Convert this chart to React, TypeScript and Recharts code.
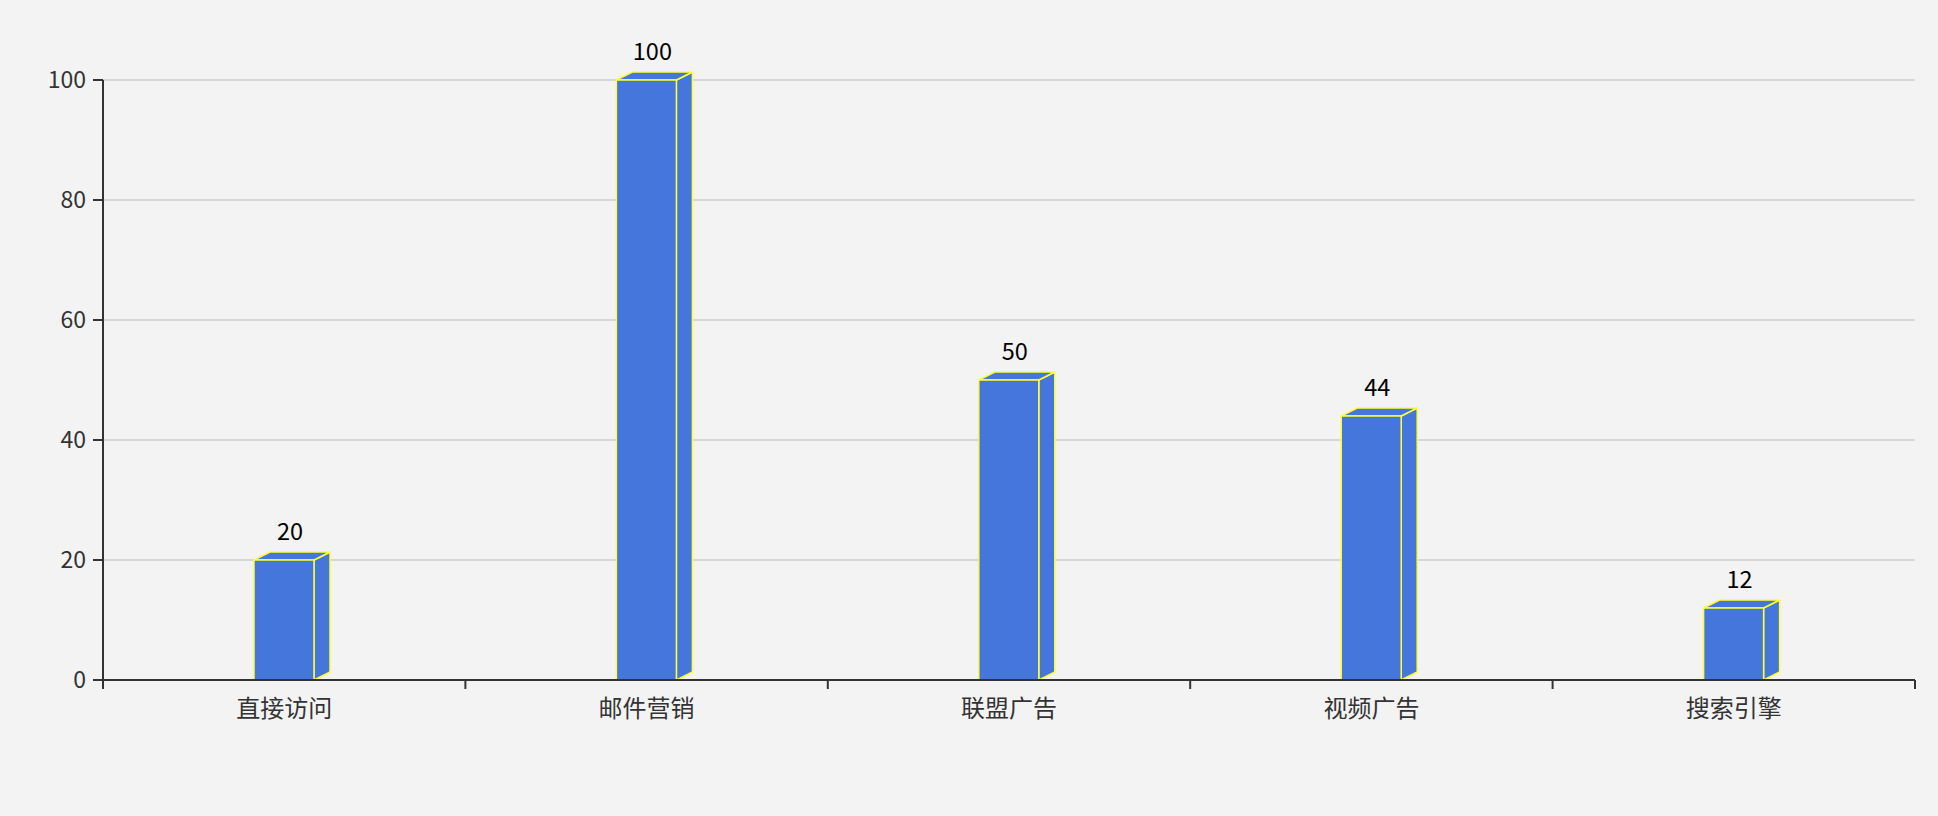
import React from 'react';
import { BarChart, Bar, XAxis, YAxis, CartesianGrid, LabelList } from 'recharts';

const categories = ['直接访问', '邮件营销', '联盟广告', '视频广告', '搜索引擎'];
const values = [20, 100, 50, 44, 12];
const yTicks = [0, 20, 40, 60, 80, 100];

const data = categories.map((name, i) => ({ name, value: values[i] }));

const FONT = "'Noto Sans CJK SC', 'Noto Sans', sans-serif";
const DX = 16;
const DY = 8;
const FILL = '#4576db';
const EDGE = '#ffff33';

const Bar3D = (props: any) => {
  const { x, y, width, height } = props;
  if (width == null || height == null) return null;
  const front = `M${x},${y} L${x + width},${y} L${x + width},${y + height} L${x},${y + height} Z`;
  const side = `M${x + width},${y} L${x + width + DX},${y - DY} L${x + width + DX},${y + height - DY} L${x + width},${y + height} Z`;
  const top = `M${x},${y} L${x + DX},${y - DY} L${x + width + DX},${y - DY} L${x + width},${y} Z`;
  return (
    <g>
      <path d={side} fill={FILL} stroke={EDGE} strokeWidth={1.5} strokeLinejoin="round" />
      <path d={top} fill={FILL} stroke={EDGE} strokeWidth={1.5} strokeLinejoin="round" />
      <path d={front} fill={FILL} stroke={EDGE} strokeWidth={1.5} strokeLinejoin="round" />
    </g>
  );
};

const ValueLabel = (props: any) => {
  const { x, y, width, value } = props;
  return (
    <text x={x + (width + DX) / 2 - 2} y={y - 20} textAnchor="middle" fill="#000" fontSize={23.5} fontFamily={FONT}>
      {value}
    </text>
  );
};

const XTick = (props: any) => {
  const { x, y, payload, index, visibleTicksCount } = props;
  const half = payload && payload.offset ? payload.offset : 181;
  const axisY = y - 9 - 8;
  const isLast = index === (visibleTicksCount ?? categories.length) - 1;
  return (
    <g>
      <line x1={x - half} y1={axisY} x2={x - half} y2={axisY + 9} stroke="#333" strokeWidth={2} />
      {isLast && <line x1={x + half} y1={axisY} x2={x + half} y2={axisY + 9} stroke="#333" strokeWidth={2} />}
      <text x={x} y={y} dy={20} textAnchor="middle" fill="#333" fontSize={24} fontFamily={FONT}>
        {payload.value}
      </text>
    </g>
  );
};

export default function App() {
  return (
    <div style={{ position: 'absolute', left: 0, top: 0, width: 1938, height: 816, background: '#f3f3f3' }}>
      <BarChart
        width={1938}
        height={816}
        data={data}
        margin={{ top: 80, right: 23, bottom: 96, left: 43 }}
      >
        <CartesianGrid vertical={false} stroke="#cccccc" strokeWidth={1.5} />
        <XAxis
          dataKey="name"
          height={40}
          axisLine={{ stroke: '#333', strokeWidth: 2 }}
          tickLine={false}
          tickSize={9}
          tickMargin={8}
          interval={0}
          tick={<XTick />}
        />
        <YAxis
          width={60}
          domain={[0, 100]}
          ticks={yTicks}
          axisLine={{ stroke: '#333', strokeWidth: 2 }}
          tickLine={{ stroke: '#333', strokeWidth: 2 }}
          tickSize={10}
          tickMargin={7}
          tick={{ fill: '#333', fontSize: 23, fontFamily: FONT }}
        />
        <Bar dataKey="value" barSize={60} shape={<Bar3D />} isAnimationActive={false}>
          <LabelList dataKey="value" content={<ValueLabel />} />
        </Bar>
      </BarChart>
    </div>
  );
}
